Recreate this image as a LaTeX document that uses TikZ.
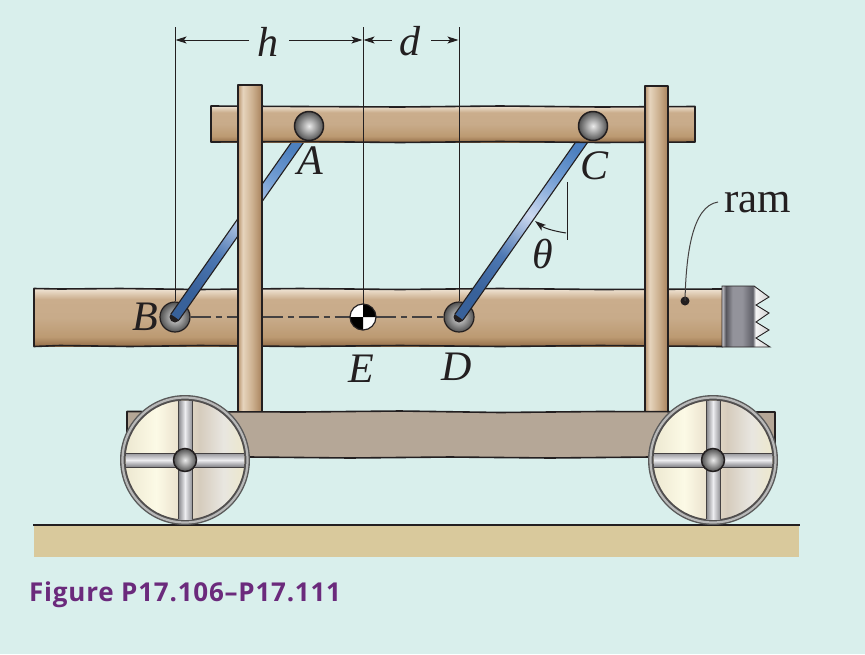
\documentclass[tikz,border=0pt]{standalone}
\usepackage{fontspec}
\setmainfont{Liberation Serif}
\newfontfamily\capfont[LetterSpace=3]{Open Sans}
\usetikzlibrary{calc,arrows.meta}
\definecolor{bgc}{HTML}{D9EFEC}
\definecolor{outl}{HTML}{231F20}
\definecolor{groundc}{HTML}{D9C99C}
\definecolor{cartc}{HTML}{B5A797}
\definecolor{capc}{HTML}{6B2A7C}
\definecolor{wa}{HTML}{96704A}
\definecolor{wb}{HTML}{BC9A72}
\definecolor{wc}{HTML}{C8AB8A}
\definecolor{wd}{HTML}{CAAD8C}
\definecolor{we}{HTML}{EFE3D3}
\definecolor{pa}{HTML}{B8946F}
\definecolor{pb}{HTML}{E6D4BD}
\definecolor{pc}{HTML}{CCB08F}
\definecolor{pd}{HTML}{A8825C}
\definecolor{ra}{HTML}{38619A}
\definecolor{rb}{HTML}{4D78B3}
\definecolor{rc}{HTML}{CCD9F0}
\definecolor{rd}{HTML}{739ED4}
\definecolor{re}{HTML}{4D80BF}
\definecolor{sa}{HTML}{CCCCD1}
\definecolor{sb}{HTML}{55555C}
\definecolor{sc}{HTML}{93939B}
\definecolor{sd}{HTML}{5F5F67}
\definecolor{se}{HTML}{F5F5F5}
\definecolor{sf}{HTML}{CFCFCF}
\definecolor{ca}{HTML}{EDE8D1}
\definecolor{cb}{HTML}{FCFAE6}
\definecolor{cc}{HTML}{E6DBC7}
\definecolor{cd}{HTML}{D6CCBD}
\definecolor{ce}{HTML}{E8E6E0}
\definecolor{cf}{HTML}{EDE8CC}
\definecolor{ga}{HTML}{808085}
\definecolor{gb}{HTML}{EDEDF0}
\definecolor{gc}{HTML}{939398}
\pgfdeclareverticalshading{woodv}{100bp}{color(0bp)=(wa);color(25bp)=(wa);color(33bp)=(wb);color(50bp)=(wc);color(66bp)=(wd);color(75bp)=(we);color(100bp)=(we)}
\pgfdeclarehorizontalshading{woodh}{100bp}{color(0bp)=(pa);color(25bp)=(pa);color(35bp)=(pb);color(55bp)=(pc);color(75bp)=(pd);color(100bp)=(pd)}
\pgfdeclarehorizontalshading{rodsh}{100bp}{color(0bp)=(ra);color(25bp)=(ra);color(38bp)=(rb);color(52bp)=(rc);color(65bp)=(rd);color(75bp)=(re);color(100bp)=(re)}
\pgfdeclarehorizontalshading{steelsh}{100bp}{color(0bp)=(sa);color(25bp)=(sa);color(29bp)=(sb);color(36bp)=(sc);color(46bp)=(sc);color(57bp)=(sd);color(60bp)=(se);color(75bp)=(sf);color(100bp)=(sf)}
\pgfdeclarehorizontalshading{wheelsh}{100bp}{color(0bp)=(ca);color(25bp)=(ca);color(38bp)=(cb);color(50bp)=(cc);color(56bp)=(cd);color(66bp)=(ce);color(75bp)=(cf);color(100bp)=(cf)}
\pgfdeclareverticalshading{spokeh}{100bp}{color(0bp)=(ga);color(25bp)=(ga);color(50bp)=(gb);color(75bp)=(gc);color(100bp)=(gc)}
\pgfdeclarehorizontalshading{spokev}{100bp}{color(0bp)=(ga);color(25bp)=(ga);color(50bp)=(gb);color(75bp)=(gc);color(100bp)=(gc)}
\tikzset{
  inkline/.style={draw=outl,line width=1.6pt,line join=round},
  thin line/.style={draw=outl,line width=1pt},
  dimarrow/.style={draw=outl,line width=1pt,-{Stealth[length=11pt,width=7pt,inset=2.5pt]}},
  labeltext/.style={inner sep=0pt,text=outl,font=\fontsize{42}{42}\selectfont\itshape},
  ballpin/.style={circle,draw=outl,line width=1.5pt,minimum size=#1,inner sep=0pt,inner color=white!92!black,outer color=black!68},
  socket/.style={circle,draw=outl,line width=1.2pt,minimum size=#1,inner sep=0pt,inner color=white!88!black,outer color=black!68},
}
\newcommand{\rodshape}[2]{%
  \shade[shading=rodsh,shading angle=55] ($(#1)!5pt!90:(#2)$) -- ($(#2)!5pt!-90:(#1)$) -- ($(#2)!5pt!90:(#1)$) -- ($(#1)!5pt!-90:(#2)$) -- cycle;
  \draw[inkline,line width=1.1pt] ($(#1)!5pt!90:(#2)$) -- ($(#2)!5pt!-90:(#1)$) ($(#2)!5pt!90:(#1)$) -- ($(#1)!5pt!-90:(#2)$);
  }
\newcommand{\wheelshape}[2]{%
  \begin{scope}[shift={(#1,#2)}]
    \fill[black!65] (0,0) circle[radius=65];
    \draw[white!72!black,line width=2.2pt] (0,0) circle[radius=62.5];
    \shade[shading=wheelsh] (0,0) circle[radius=60];
    \draw[outl!80,line width=1.2pt] (0,0) circle[radius=60];
    \shade[shading=spokeh] (-59,-7) rectangle (59,7);
    \draw[outl!85,line width=1pt] (-59,-7) -- (59,-7) (-59,7) -- (59,7);
    \shade[shading=spokev] (-7,-59) rectangle (7,59);
    \draw[outl!85,line width=1pt] (-7,-59) -- (-7,59) (7,-59) -- (7,59);
    \node[ballpin=23pt] at (0,0) {};
  \end{scope}}
\begin{document}
\begin{tikzpicture}[x=1pt,y=-1pt]
\useasboundingbox (0,0) rectangle (865,654);
\fill[bgc] (0,0) rectangle (865,654);
% ground
\fill[groundc] (34,525) rectangle (799,557);
\draw[outl,line width=1.8pt] (33,525) -- (800,525);
% ram body
\shade[shading=woodv] (34,289) rectangle (723,346);
\draw[inkline] (723,289) -- (600,289.5) -- (500,288.5) -- (400,289.5) -- (300,288.5) -- (200,289.5) -- (120,288.5) -- (60,289) -- (34,288.5) -- (34,346.5) -- (60,345.5) -- (130,346.5) -- (200,345.5) -- (300,346.5) -- (400,345.5) -- (500,346.5) -- (600,345.5) -- (723,346.5);
% ram head
\shade[shading=steelsh] (722,286) -- (754,286) -- (769,297) -- (756,305) -- (769,313) -- (756,322) -- (769,330) -- (756,338) -- (770,347) -- (722,347) -- cycle;
\draw[outl,line width=0.9pt,line join=miter] (722,286) -- (754,286) -- (769,297) -- (756,305) -- (769,313) -- (756,322) -- (769,330) -- (756,338) -- (770,347) -- (722,347) -- cycle;
% pins on the ram
\node[socket=30pt] (B) at (175,317) {};
\node[socket=30pt] (D) at (459,317) {};
\coordinate (A0) at (309,126);
\coordinate (C0) at (593,126);
\fill[outl] (B) circle[radius=5.5];
\fill[outl] (D) circle[radius=5.5];
\rodshape{B.center}{A0}
\rodshape{D.center}{C0}
% centre line
\node[circle,minimum size=26pt,inner sep=0pt] (E) at (363,317) {};
\draw[draw=outl!85,line width=1.2pt,dash pattern=on 20pt off 5pt on 6pt off 5pt] (B.east) -- (E.west);
\draw[draw=outl!85,line width=1.2pt,dash pattern=on 20pt off 5pt on 6pt off 5pt] (E.east) -- (D.west);
% top beam
\shade[shading=woodv] (211,106) rectangle (695,142);
\draw[inkline] (211,106) -- (300,106.5) -- (400,107) -- (500,106) -- (600,107) -- (695,106.5) -- (695,142) -- (600,142.5) -- (500,141.5) -- (400,142.5) -- (300,141.5) -- (211,142) -- cycle;
\node[ballpin=29pt] (A) at (A0) {};
\node[ballpin=29pt] (C) at (C0) {};
% dimension lines
\coordinate (topB) at (175,27);
\coordinate (topE) at (363,27);
\coordinate (topD) at (459,27);
\draw[thin line] (topB) -- (B.north);
\draw[thin line] (topE) -- (E.north);
\draw[thin line] (topD) -- (D.north);
% centre of mass symbol
\fill[white] (E) circle[radius=13];
\fill[black] (E.center) -- ++(13,0) arc[start angle=0,end angle=-90,radius=13] -- cycle;
\fill[black] (E.center) -- ++(-13,0) arc[start angle=180,end angle=90,radius=13] -- cycle;
\draw[outl,line width=1.2pt] (E) circle[radius=13];
% posts
\shade[shading=woodh] (238,85) rectangle (262,412);
\draw[inkline] (238,412) -- (238,85) -- (262,85) -- (262,412);
\shade[shading=woodh] (645,86) rectangle (668,412);
\draw[inkline] (645,412) -- (645,86) -- (668,86) -- (668,412);
% cart
\fill[cartc] (127,412) rectangle (775,458);
\draw[inkline] (127,458) -- (127,411.5) -- (300,412) -- (400,411) -- (500,412.5) -- (600,411.5) -- (775,412) -- (775,458) -- (650,457) -- (550,458) -- (450,457) -- (350,458) -- (250,457) -- cycle;
% wheels
\wheelshape{185}{460}
\wheelshape{713}{460}
% labels
\node[labeltext] (hl) at (268,42) {h};
\node[labeltext] (dl) at (410,41) {d};
\node[labeltext] (Al) at (310,161) {A};
\node[labeltext] (Cl) at (595,166) {C};
\node[labeltext] (Bl) at (145,317) {B};
\node[labeltext] (El) at (361,369) {E};
\node[labeltext] (Dl) at (457,367) {D};
\node[labeltext] (thl) at (543,254) {θ};
\node[labeltext,font=\fontsize{43}{43}\selectfont\upshape] (raml) at (758,203) {ram};
% dimension arrows
\coordinate (h1) at (175.5,40);
\coordinate (h2) at (362.5,40);
\coordinate (d1) at (363.5,40);
\coordinate (d2) at (458.5,40);
\draw[dimarrow] (249,40) -- (h1);
\draw[dimarrow] (289,40) -- (h2);
\draw[dimarrow] (392,40) -- (d1);
\draw[dimarrow] (431,40) -- (d2);
% theta
\coordinate (t1) at (567,182);
\coordinate (t2) at (567,240);
\coordinate (t3) at (535,221);
\draw[thin line] (t1) -- (t2);
\draw[dimarrow] (566,233) .. controls (553,231) and (544,228) .. (t3);
% ram leader
\node[circle,fill=outl,minimum size=9pt,inner sep=0pt] (ramdot) at (685,301) {};
\draw[draw=outl!85,line width=1pt] (ramdot.center) .. controls (686,255) and (692,206) .. (718,202);
% caption
\node[anchor=west,inner sep=0pt,text=capc,font=\capfont\bfseries\fontsize{26}{26}\selectfont] (cap) at (29,595) {Figure P17.106–P17.111};
\end{tikzpicture}
\end{document}
